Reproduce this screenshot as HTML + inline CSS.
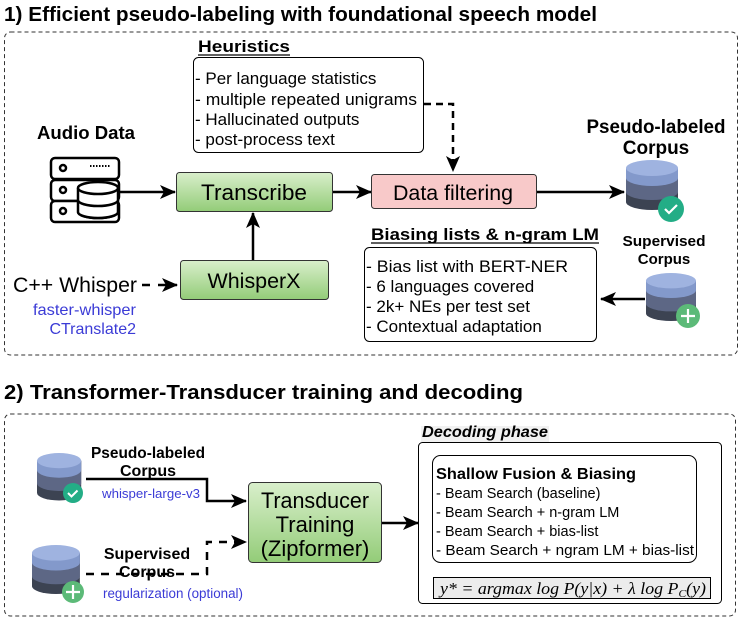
<!DOCTYPE html>
<html><head><meta charset="utf-8"><style>
html,body{margin:0;padding:0;background:#fff;}
svg{display:block;font-family:"Liberation Sans",sans-serif;}
</style></head><body>
<svg width="742" height="621" viewBox="0 0 742 621" xmlns="http://www.w3.org/2000/svg">
<defs>
<linearGradient id="g" x1="0" y1="0" x2="0" y2="1"><stop offset="0" stop-color="#d9efcb"/><stop offset="1" stop-color="#93cc78"/></linearGradient>
<marker id="ah2" markerWidth="16" markerHeight="14" refX="15" refY="7" orient="auto" markerUnits="userSpaceOnUse"><path d="M0,0 L16,7 L0,14 L4,7 Z" fill="#000"/></marker>
<g id="cyl">
<path d="M0,8 v34 a26,8 0 0 0 52,0 v-34 z" fill="#3c4352"/>
<path d="M0,8 v24 a26,8 0 0 0 52,0 v-24 z" fill="#5d6785"/>
<path d="M0,8 v10 a26,8 0 0 0 52,0 v-10 z" fill="#8399cb"/>
<ellipse cx="26" cy="8" rx="26" ry="8" fill="#9fb3e0"/>
</g>
</defs>

<!-- Section 1 -->
<text x="4" y="21" font-size="20" font-weight="bold" textLength="593" lengthAdjust="spacingAndGlyphs">1) Efficient pseudo-labeling with foundational speech model</text>
<rect x="4.5" y="32" width="733" height="323" rx="6" fill="none" stroke="#333" stroke-dasharray="4,3"/>

<text x="198" y="52" font-size="17" font-weight="bold" textLength="92" lengthAdjust="spacingAndGlyphs">Heuristics</text>
<line x1="198" y1="55" x2="290" y2="55" stroke="#000" stroke-width="1.3"/>
<rect x="193.5" y="57.5" width="230" height="95" rx="5" fill="#fff" stroke="#000"/>
<g font-size="17">
<text x="195" y="84">- Per language statistics</text>
<text x="195" y="105" textLength="222" lengthAdjust="spacingAndGlyphs">- multiple repeated unigrams</text>
<text x="195" y="125">- Hallucinated outputs</text>
<text x="195" y="145">- post-process text</text>
</g>
<path d="M424,104 H453 V171" fill="none" stroke="#000" stroke-width="2.5" stroke-dasharray="7,5" marker-end="url(#ah2)"/>

<text x="86" y="139" font-size="18" font-weight="bold" text-anchor="middle" textLength="98" lengthAdjust="spacingAndGlyphs">Audio Data</text>
<g fill="#fff" stroke="#000" stroke-width="2.5">
<rect x="51" y="158" width="68" height="21" rx="4"/>
<rect x="51" y="180" width="68" height="21" rx="4"/>
<rect x="51" y="201" width="68" height="21" rx="4"/>
<circle cx="63" cy="168" r="3"/><circle cx="63" cy="190" r="3"/><circle cx="63" cy="211" r="3"/>
<path d="M78,188 v24 a20,6 0 0 0 40,0 v-24" />
<path d="M78,200 a20,6 0 0 0 40,0"/>
<path d="M78,212 a20,6 0 0 0 40,0"/>
<ellipse cx="98" cy="188" rx="20" ry="6"/>
</g>
<line x1="90" y1="166" x2="110" y2="166" stroke="#000" stroke-width="2" stroke-dasharray="1.5,1.5"/>

<line x1="119" y1="192" x2="175" y2="192" stroke="#000" stroke-width="2.5" marker-end="url(#ah2)"/>
<rect x="176.5" y="172.5" width="156" height="39" rx="3" fill="url(#g)" stroke="#333"/>
<text x="254" y="200" font-size="22" text-anchor="middle" textLength="106" lengthAdjust="spacingAndGlyphs">Transcribe</text>
<line x1="333" y1="192" x2="371" y2="192" stroke="#000" stroke-width="2.5" marker-end="url(#ah2)"/>
<rect x="371.5" y="174.5" width="165" height="34" rx="3" fill="#f8c9c9" stroke="#333"/>
<text x="453" y="200" font-size="21" text-anchor="middle" textLength="120" lengthAdjust="spacingAndGlyphs">Data filtering</text>
<line x1="537" y1="192" x2="624" y2="192" stroke="#000" stroke-width="2.5" marker-end="url(#ah2)"/>

<text x="656" y="133" font-size="19" font-weight="bold" text-anchor="middle" textLength="139" lengthAdjust="spacingAndGlyphs">Pseudo-labeled</text>
<text x="656" y="154" font-size="19" font-weight="bold" text-anchor="middle">Corpus</text>
<use href="#cyl" x="626" y="160"/>
<circle cx="671" cy="209" r="13" fill="#23ad86"/>
<path d="M665,209 l4,4 l8,-8" fill="none" stroke="#fff" stroke-width="2.2"/>

<line x1="253" y1="260" x2="253" y2="213" stroke="#000" stroke-width="2.5" marker-end="url(#ah2)"/>
<rect x="180.5" y="260.5" width="148" height="39" rx="3" fill="url(#g)" stroke="#333"/>
<text x="254" y="288" font-size="21" text-anchor="middle" textLength="93" lengthAdjust="spacingAndGlyphs">WhisperX</text>
<text x="13" y="292" font-size="21" textLength="124" lengthAdjust="spacingAndGlyphs">C++ Whisper</text>
<path d="M142,285 H177" fill="none" stroke="#000" stroke-width="2.5" stroke-dasharray="8,8" marker-end="url(#ah2)"/>
<text x="136" y="315" font-size="16" fill="#3b3bd6" text-anchor="end" textLength="103" lengthAdjust="spacingAndGlyphs">faster-whisper</text>
<text x="136" y="334" font-size="16" fill="#3b3bd6" text-anchor="end">CTranslate2</text>

<text x="371" y="240" font-size="17" font-weight="bold" textLength="228" lengthAdjust="spacingAndGlyphs">Biasing lists &amp; n-gram LM</text>
<line x1="371" y1="243" x2="599" y2="243" stroke="#000" stroke-width="1.3"/>
<rect x="364.5" y="247.5" width="232" height="94" rx="5" fill="#fff" stroke="#000"/>
<g font-size="17">
<text x="366" y="272" textLength="202" lengthAdjust="spacingAndGlyphs">- Bias list with BERT-NER</text>
<text x="366" y="292">- 6 languages covered</text>
<text x="366" y="312">- 2k+ NEs per test set</text>
<text x="366" y="332">- Contextual adaptation</text>
</g>
<text x="664" y="246" font-size="15" font-weight="bold" text-anchor="middle" textLength="83" lengthAdjust="spacingAndGlyphs">Supervised</text>
<text x="664" y="264" font-size="15" font-weight="bold" text-anchor="middle">Corpus</text>
<use href="#cyl" transform="translate(646 273) scale(0.96)"/>
<circle cx="688" cy="316" r="12" fill="#5cba78"/>
<path d="M688,309 v14 M681,316 h14" stroke="#fff" stroke-width="2.2"/>
<line x1="645" y1="299" x2="601" y2="299" stroke="#000" stroke-width="2.5" marker-end="url(#ah2)"/>

<!-- Section 2 -->
<text x="4" y="399" font-size="20" font-weight="bold" textLength="519" lengthAdjust="spacingAndGlyphs">2) Transformer-Transducer training and decoding</text>
<rect x="4.5" y="414" width="731" height="202" rx="6" fill="none" stroke="#333" stroke-dasharray="4,3"/>

<text x="148" y="458" font-size="16" font-weight="bold" text-anchor="middle" textLength="114" lengthAdjust="spacingAndGlyphs">Pseudo-labeled</text>
<text x="148" y="476" font-size="16" font-weight="bold" text-anchor="middle">Corpus</text>
<use href="#cyl" transform="translate(37 453) scale(0.85 0.95)"/>
<circle cx="73" cy="493" r="10" fill="#23ad86"/>
<path d="M68,493 l3.5,3.5 l6,-6" fill="none" stroke="#fff" stroke-width="2"/>
<text x="102" y="498" font-size="13" fill="#3b3bd6" textLength="98" lengthAdjust="spacingAndGlyphs">whisper-large-v3</text>
<path d="M86,479 H207 V501 H246" fill="none" stroke="#000" stroke-width="2.5" marker-end="url(#ah2)"/>

<text x="147" y="559" font-size="16" font-weight="bold" text-anchor="middle">Supervised</text>
<text x="147" y="577" font-size="16" font-weight="bold" text-anchor="middle">Corpus</text>
<use href="#cyl" transform="translate(32 545) scale(0.92 0.98)"/>
<circle cx="73" cy="592" r="11" fill="#5cba78"/>
<path d="M73,585 v14 M66,592 h14" stroke="#fff" stroke-width="2.2"/>
<text x="103" y="598" font-size="13.5" fill="#3b3bd6" textLength="140" lengthAdjust="spacingAndGlyphs">regularization (optional)</text>
<path d="M86,574 H207 V542 H246" fill="none" stroke="#000" stroke-width="2.5" stroke-dasharray="8,7" marker-end="url(#ah2)"/>

<rect x="248.5" y="482.5" width="133" height="80" rx="4" fill="url(#g)" stroke="#333"/>
<g font-size="22" text-anchor="middle">
<text x="315" y="508" textLength="108" lengthAdjust="spacingAndGlyphs">Transducer</text>
<text x="315" y="532">Training</text>
<text x="315" y="556">(Zipformer)</text>
</g>
<line x1="382" y1="523" x2="418" y2="523" stroke="#000" stroke-width="2.5" marker-end="url(#ah2)"/>

<rect x="421" y="426" width="128" height="17" fill="#f1f1f1"/>
<text x="422" y="437" font-size="16" font-weight="bold" font-style="italic" textLength="126" lengthAdjust="spacingAndGlyphs">Decoding phase</text>
<rect x="418.5" y="442.5" width="303" height="161" rx="4" fill="#fff" stroke="#000"/>
<rect x="432.5" y="455.5" width="264" height="107" rx="8" fill="#fff" stroke="#000"/>
<text x="436" y="479" font-size="16" font-weight="bold" textLength="200" lengthAdjust="spacingAndGlyphs">Shallow Fusion &amp; Biasing</text>
<g font-size="14.5">
<text x="436" y="498">- Beam Search (baseline)</text>
<text x="436" y="517">- Beam Search + n-gram LM</text>
<text x="436" y="536">- Beam Search + bias-list</text>
<text x="436" y="555" textLength="258" lengthAdjust="spacingAndGlyphs">- Beam Search + ngram LM + bias-list</text>
</g>
<rect x="433.5" y="577.5" width="277" height="21" fill="#ececec" stroke="#000"/>
<text x="440" y="594" font-size="17" font-family="Liberation Serif,serif" font-style="italic" textLength="266" lengthAdjust="spacingAndGlyphs">y* = argmax log P(y|x) + λ log P<tspan font-size="11" dy="3">C</tspan><tspan dy="-3">(y)</tspan></text>
</svg>
</body></html>
